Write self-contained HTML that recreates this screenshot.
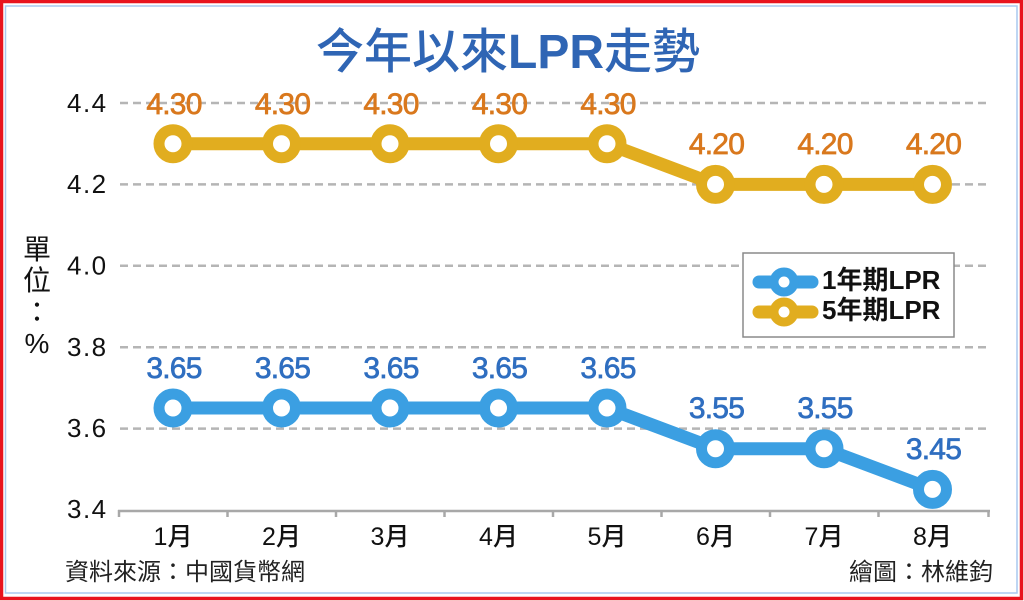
<!DOCTYPE html>
<html><head><meta charset="utf-8"><style>
html,body{margin:0;padding:0;background:#fff;}
svg{display:block;}
text{font-family:"Liberation Sans","Noto Sans CJK TC",sans-serif;}
</style></head><body>
<svg width="1024" height="601" viewBox="0 0 1024 601" xmlns="http://www.w3.org/2000/svg">
<rect x="0" y="0" width="1024" height="601" fill="#fff"/>
<!-- frames -->
<rect x="1.5" y="1.5" width="1020" height="597" fill="none" stroke="#e8141e" stroke-width="3.5"/>
<rect x="5.5" y="6" width="1011.5" height="587" fill="none" stroke="#a9c9ef" stroke-width="1.5"/>

<!-- title -->
<text x="508" y="68" text-anchor="middle" font-size="48" fill="#2f65b4" style="font-family:'Liberation Sans','Noto Sans CJK TC',sans-serif;font-weight:500">今年以來<tspan font-weight="bold">LPR</tspan>走勢</text>

<!-- gridlines -->
<g stroke="#b5b5b5" stroke-width="2.5" stroke-dasharray="8 5">
<line x1="120" y1="103" x2="990" y2="103"/>
<line x1="120" y1="184.4" x2="990" y2="184.4"/>
<line x1="120" y1="265.8" x2="990" y2="265.8"/>
<line x1="120" y1="347.2" x2="990" y2="347.2"/>
<line x1="120" y1="428.6" x2="990" y2="428.6"/>
</g>
<!-- axis -->
<g stroke="#a8a8a8" stroke-width="2.5">
<line x1="118" y1="511" x2="990" y2="511"/>
<line x1="119" y1="510" x2="119" y2="517"/>
<line x1="227.5" y1="510" x2="227.5" y2="517"/>
<line x1="336" y1="510" x2="336" y2="517"/>
<line x1="444.5" y1="510" x2="444.5" y2="517"/>
<line x1="553" y1="510" x2="553" y2="517"/>
<line x1="661.5" y1="510" x2="661.5" y2="517"/>
<line x1="770" y1="510" x2="770" y2="517"/>
<line x1="878.5" y1="510" x2="878.5" y2="517"/>
<line x1="988.5" y1="510" x2="988.5" y2="517"/>
</g>

<!-- y tick labels -->
<g font-size="26" fill="#111" letter-spacing="1.5">
<text x="67" y="112">4.4</text>
<text x="67" y="193">4.2</text>
<text x="67" y="274.5">4.0</text>
<text x="67" y="356">3.8</text>
<text x="67" y="437">3.6</text>
<text x="67" y="518">3.4</text>
</g>

<!-- unit label -->
<g font-size="28" fill="#111" text-anchor="middle">
<text x="37" y="259">單</text>
<text x="37" y="290">位</text>
<text x="37" y="322">：</text>
<text x="37" y="353">%</text>
</g>

<!-- x labels -->
<g font-size="25" fill="#111" text-anchor="middle" style="font-weight:500">
<text x="173" y="545">1月</text>
<text x="281.5" y="545">2月</text>
<text x="390" y="545">3月</text>
<text x="498.5" y="545">4月</text>
<text x="607" y="545">5月</text>
<text x="715.5" y="545">6月</text>
<text x="824" y="545">7月</text>
<text x="932.5" y="545">8月</text>
</g>

<!-- 5-year series -->
<polyline points="173,143.7 281.5,143.7 390,143.7 498.5,143.7 607,143.7 715.5,184.4 824,184.4 932.5,184.4" fill="none" stroke="#e1ad1f" stroke-width="13" stroke-linejoin="round"/>
<g fill="#fff" stroke="#e1ad1f" stroke-width="11">
<circle cx="173" cy="143.7" r="14"/>
<circle cx="281.5" cy="143.7" r="14"/>
<circle cx="390" cy="143.7" r="14"/>
<circle cx="498.5" cy="143.7" r="14"/>
<circle cx="607" cy="143.7" r="14"/>
<circle cx="715.5" cy="184.4" r="14"/>
<circle cx="824" cy="184.4" r="14"/>
<circle cx="932.5" cy="184.4" r="14"/>
</g>
<g font-size="30" fill="#d9781d" stroke="#d9781d" stroke-width="0.7" text-anchor="middle" letter-spacing="-0.8">
<text x="174" y="114">4.30</text>
<text x="282.5" y="114">4.30</text>
<text x="391" y="114">4.30</text>
<text x="499.5" y="114">4.30</text>
<text x="608" y="114">4.30</text>
<text x="716.5" y="154">4.20</text>
<text x="825" y="154">4.20</text>
<text x="933.5" y="154">4.20</text>
</g>

<!-- 1-year series -->
<polyline points="173,408 281.5,408 390,408 498.5,408 607,408 715.5,448.7 824,448.7 932.5,489.4" fill="none" stroke="#3b9fe2" stroke-width="13" stroke-linejoin="round"/>
<g fill="#fff" stroke="#3b9fe2" stroke-width="11">
<circle cx="173" cy="408" r="14"/>
<circle cx="281.5" cy="408" r="14"/>
<circle cx="390" cy="408" r="14"/>
<circle cx="498.5" cy="408" r="14"/>
<circle cx="607" cy="408" r="14"/>
<circle cx="715.5" cy="448.7" r="14"/>
<circle cx="824" cy="448.7" r="14"/>
<circle cx="932.5" cy="489.4" r="14"/>
</g>
<g font-size="30" fill="#2f6ec0" stroke="#2f6ec0" stroke-width="0.7" text-anchor="middle" letter-spacing="-0.8">
<text x="174" y="378">3.65</text>
<text x="282.5" y="378">3.65</text>
<text x="391" y="378">3.65</text>
<text x="499.5" y="378">3.65</text>
<text x="608" y="378">3.65</text>
<text x="716.5" y="418">3.55</text>
<text x="825" y="418">3.55</text>
<text x="933.5" y="459">3.45</text>
</g>

<!-- legend -->
<rect x="743" y="253" width="211" height="84" fill="#fff" stroke="#8a8a8a" stroke-width="1.5"/>
<line x1="759" y1="282" x2="812" y2="282" stroke="#3b9fe2" stroke-width="13" stroke-linecap="round"/>
<circle cx="784" cy="282" r="10" fill="#fff" stroke="#3b9fe2" stroke-width="9"/>
<line x1="759" y1="312" x2="812" y2="312" stroke="#e1ad1f" stroke-width="13" stroke-linecap="round"/>
<circle cx="784" cy="312" r="10" fill="#fff" stroke="#e1ad1f" stroke-width="9"/>
<g font-size="26" font-weight="bold" fill="#111">
<text x="822" y="289">1年期LPR</text>
<text x="822" y="319">5年期LPR</text>
</g>

<!-- footer -->
<text x="65" y="580" font-size="24" fill="#222">資料來源：中國貨幣網</text>
<text x="993" y="580" font-size="24" fill="#222" text-anchor="end">繪圖：林維鈞</text>
</svg>
</body></html>
